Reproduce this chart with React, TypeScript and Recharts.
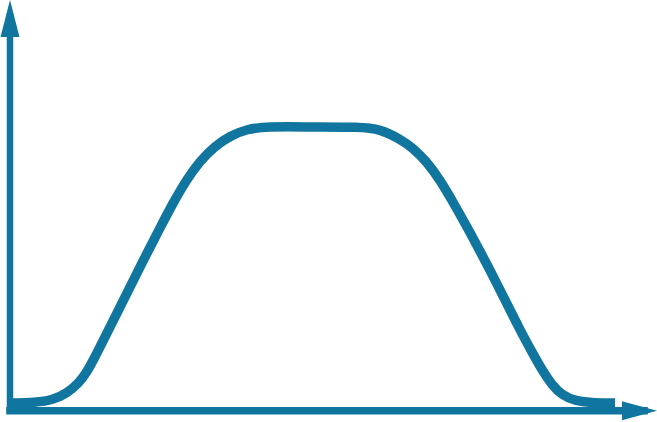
import { LineChart, Line, XAxis, YAxis, ReferenceDot, ReferenceLine } from 'recharts'

// curve readings, in axis units (x 0..100 left to right, y 0..100 bottom to top)
const xValues = [
  0.31, 3.86, 6.65, 8.81, 10.51, 11.9, 13.29, 14.84, 16.54, 18.55, 20.87, 23.18, 25.19, 27.36, 29.37, 31.68, 34.0, 36.63, 39.72,
  46.37, 54.1,
  57.19, 60.28, 62.29, 64.45, 66.46, 68.47, 70.63, 72.64, 74.81, 76.82, 78.83, 80.68, 82.23, 83.77, 85.32, 87.33, 90.42, 93.51
]
const yValues = [
  1.89, 2.01, 2.62, 4.32, 6.51, 9.43, 13.57, 18.44, 23.8, 30.13, 37.43, 44.49, 50.58, 56.42, 60.8, 64.46, 66.89, 68.59, 69.2,
  69.08, 69.08,
  68.59, 66.16, 63.97, 60.56, 56.18, 50.82, 44.74, 38.89, 32.32, 25.99, 19.66, 14.3, 9.92, 6.27, 3.83, 2.37, 1.89, 1.89
]

const xDomain = [0, 100]
const yDomain = [0, 100]

const color = '#11769f'

const data = xValues.map((x, i) => ({ x, y: yValues[i] }))

// arrow head at the end of the x axis
const RightArrow = (props: any) => {
  const { cx, cy } = props
  return <polygon points={`${cx},${cy} ${cx - 35},${cy - 9.5} ${cx - 35},${cy + 9.5}`} fill={color} />
}

// arrow head at the top of the y axis
const UpArrow = (props: any) => {
  const { cx, cy } = props
  return <polygon points={`${cx},${cy} ${cx - 9.5},${cy + 37} ${cx + 9.5},${cy + 37}`} fill={color} />
}

export default function App() {
  return (
    <div style={{ position: 'absolute', left: 0, top: 0, width: 657, height: 422, background: '#fff' }}>
      <LineChart width={657} height={422} data={data} margin={{ top: 0, right: 0, left: 10, bottom: 11.25 }}>
        <XAxis type="number" dataKey="x" domain={xDomain} hide />
        <YAxis type="number" domain={yDomain} hide />
        {/* axes drawn as segments so the arrows can sit on their ends */}
        <ReferenceLine
          segment={[{ x: xDomain[0], y: yDomain[0] }, { x: xDomain[1] - 2, y: yDomain[0] }]}
          stroke={color}
          strokeWidth={7.5}
          strokeLinecap="square"
          ifOverflow="visible"
        />
        <ReferenceLine
          segment={[{ x: xDomain[0], y: yDomain[0] }, { x: xDomain[0], y: yDomain[1] - 4 }]}
          stroke={color}
          strokeWidth={6.5}
          strokeLinecap="square"
          ifOverflow="visible"
        />
        <Line
          type="basis"
          dataKey="y"
          stroke={color}
          strokeWidth={9.5}
          dot={false}
          activeDot={false}
          isAnimationActive={false}
        />
        <ReferenceDot x={xDomain[1]} y={yDomain[0]} ifOverflow="visible" shape={RightArrow} />
        <ReferenceDot x={xDomain[0]} y={yDomain[1]} ifOverflow="visible" shape={UpArrow} />
      </LineChart>
    </div>
  )
}
